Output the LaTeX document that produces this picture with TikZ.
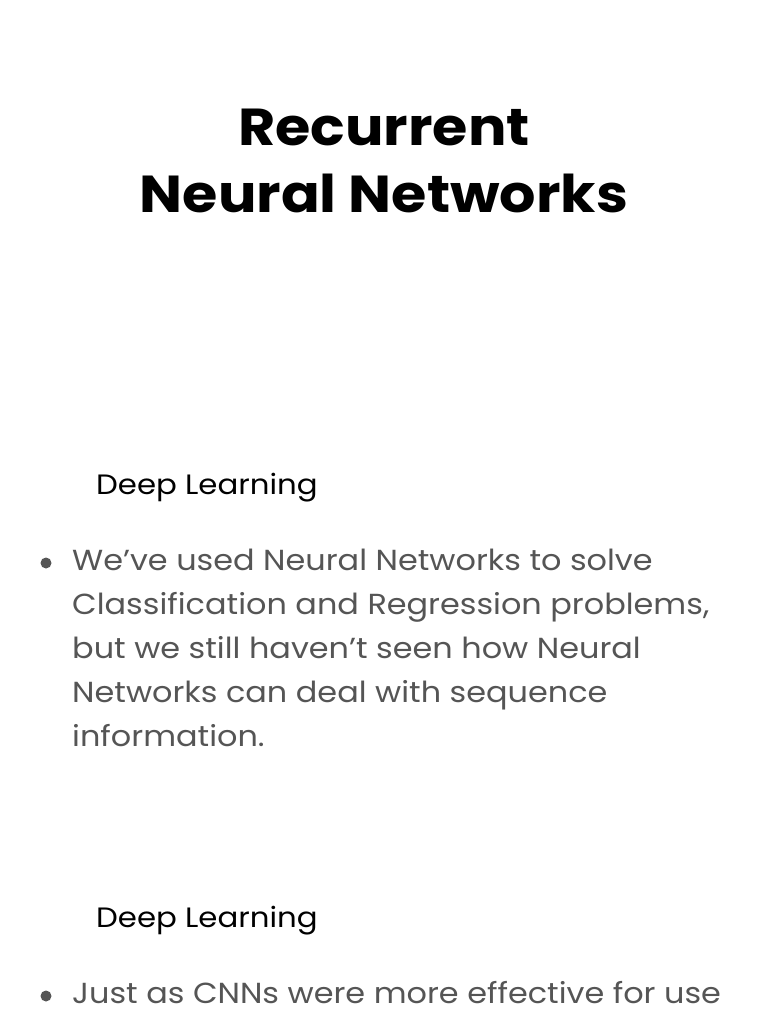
\documentclass[tikz,border=0pt]{standalone}
\usepackage{fontspec}
\setmainfont{Poppins}[FakeStretch=1.1]
\definecolor{bodygray}{HTML}{555555}
\begin{document}
\begin{tikzpicture}[x=1pt,y=1pt,
  title/.style={font=\fontsize{52}{60}\selectfont\bfseries, anchor=base},
  head/.style={font=\fontsize{28}{32}\selectfont, anchor=base west},
  body/.style={font=\fontsize{29}{44}\selectfont, text=bodygray, anchor=base west, inner sep=0},
  dot/.style={circle, fill=bodygray, minimum size=11pt, inner sep=0}]
\useasboundingbox (0,0) rectangle (768,-1024);
\node[title] (t1) at (384,-146) {Recurrent};
\node[title] (t2) at (384,-213) {Neural Networks};
\node[head,inner sep=0] (h1) at (96,-494) {Deep Learning};
\node[dot] (d1) at (46,-563) {};
\node[body] (l1) at (72,-570) {We’ve used Neural Networks to solve};
\node[body] (l2) at (72,-614) {Classification and Regression problems,};
\node[body] (l3) at (72,-658) {but we still haven’t seen how Neural};
\node[body] (l4) at (72,-702) {Networks can deal with sequence};
\node[body] (l5) at (72,-746) {information.};
\node[head,inner sep=0] (h2) at (96,-927) {Deep Learning};
\node[dot] (d2) at (46,-996) {};
\node[body] (m1) at (72,-1003) {Just as CNNs were more effective for use};
\end{tikzpicture}
\end{document}
